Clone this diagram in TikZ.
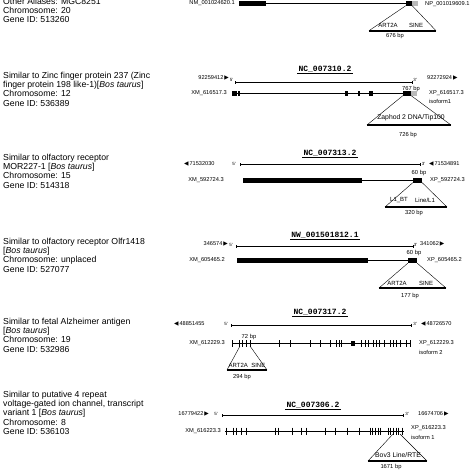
\documentclass[tikz,border=0pt]{standalone}
\usepackage{fontspec}
\setmainfont{Liberation Sans}
\newfontfamily\titlefont{Liberation Mono}
\newfontfamily\symfont{DejaVu Sans}
\usetikzlibrary{arrows.meta}
\newcommand\rtri{{\symfont\fontsize{5.8}{6}\selectfont ▶}}
\newcommand\ltri{{\symfont\fontsize{5.8}{6}\selectfont ◀}}
\tikzset{
  info/.style={anchor=base west,align=left,inner sep=0pt,font=\fontsize{8.7}{9.4}\selectfont},
  acc/.style={inner sep=0pt,font=\fontsize{5.7}{6}\selectfont},
  coordlabel/.style={inner sep=0pt,font=\fontsize{5.6}{6}\selectfont},
  prime/.style={inner sep=0pt,font=\fontsize{4.5}{5}\selectfont},
  chrom/.style={inner sep=1pt,font=\titlefont\bfseries\fontsize{8}{9}\selectfont},
  uline/.style={line width=0.8pt},
  replabel/.style={inner sep=0pt,font=\fontsize{6}{6}\selectfont},
  bigrep/.style={inner sep=0pt,font=\fontsize{6.8}{7}\selectfont},
  bplabel/.style={inner sep=0pt,font=\fontsize{5.8}{6}\selectfont},
  gline/.style={line width=0.5pt,{Bar[width=3pt]}-{Bar[width=3pt]}},
  mline/.style={line width=0.7pt},
  repbase/.style={line width=1.8pt},
  exon/.style={fill,inner sep=0pt,minimum width=#1,minimum height=5pt},
  utr/.style={fill=gray!55,inner sep=0pt,minimum width=6pt,minimum height=5pt,anchor=west},
  ticks/.style={line width=0.9pt}
}
\begin{document}
\begin{tikzpicture}[x=1pt,y=-1pt]
\useasboundingbox (0,0) rectangle (474,474);

% panel 1
\node[info] (g1) at (3,22.8) {Other Aliases: MGC8251\\Chromosome: 20\\Gene ID: 513260};
\node[acc,anchor=east] (xm1) at (235,3.5) {NM\_001024620.1};
\node[exon=27pt] (e1a) at (252.5,3) {};
\node[exon=6pt] (e1b) at (409,3) {};
\node[utr] (u1) at (e1b.east) {};
\draw[mline] (e1a) -- (e1b);
\node[acc,anchor=west] (np1) at (425,4.5) {NP\_001019609.1};
\coordinate (b1l) at (369,30.7);
\coordinate (b1r) at (436,30.7);
\draw (e1b.south west) -- (b1l);
\draw (e1b.south east) -- (b1r);
\draw[repbase] (b1l) -- (b1r);
\node[replabel] (r1a) at (388,25) {ART2A};
\node[replabel] (r1b) at (416,25) {SINE};
\node[bplabel] (s1) at (395,35.5) {676 bp};

% panel 2
\node[info] (g2) at (3,106.2) {Similar to Zinc finger protein 237 (Zinc\\finger protein 198 like-1)[\textit{Bos taurus}]\\Chromosome: 12\\Gene ID: 536389};
\node[chrom] (t2) at (325,69) {NC\_007310.2};
\draw[uline] (t2.south west) -- (t2.south east);
\node[coordlabel,anchor=east] (p2a) at (229,78) {92259412\,\rtri};
\node[prime] (f2a) at (231.5,80) {5'};
\coordinate (q2a) at (235,82);
\coordinate (q2b) at (412,82);
\draw[gline] (q2a) -- (q2b);
\node[prime] (f2b) at (415,79.5) {3'};
\node[coordlabel,anchor=west] (p2b) at (427,78) {92272924\,\rtri};
\node[acc,anchor=east] (xm2) at (227,93) {XM\_616517.3};
\node[exon=5pt] (e2a) at (234,93) {};
\node[exon=2pt] (e2b) at (238.5,93) {};
\node[exon=3pt] (e2c) at (346,93) {};
\node[exon=2.5pt] (e2d) at (359,93) {};
\node[exon=3.5pt] (e2e) at (371,93) {};
\node[exon=8pt] (e2f) at (407,93) {};
\node[utr] (u2) at (e2f.east) {};
\draw[mline] (e2a) -- (e2f);
\node[bplabel] (l2) at (411,88.5) {767 bp};
\node[acc,anchor=west] (xp2) at (429,93) {XP\_616517.3};
\node[acc,anchor=west] (i2) at (429,101.5) {isoform1};
\coordinate (b2l) at (367,125);
\coordinate (b2r) at (451,125);
\draw (e2f.south west) -- (b2l);
\draw (e2f.south east) -- (b2r);
\draw[repbase] (b2l) -- (b2r);
\node[bigrep] (r2) at (411,117.5) {Zaphod 2 DNA/Tip100};
\node[bplabel] (s2) at (408,135) {726 bp};

% panel 3
\node[info] (g3) at (3,188.2) {Similar to olfactory receptor\\MOR227-1 [\textit{Bos taurus}]\\Chromosome: 15\\Gene ID: 514318};
\node[chrom] (t3) at (330,153) {NC\_007313.2};
\draw[uline] (t3.south west) -- (t3.south east);
\node[coordlabel,anchor=west] (p3a) at (184,163.5) {\ltri\,71532030};
\node[prime] (f3a) at (234,163.5) {5'};
\coordinate (q3a) at (240,164.5);
\coordinate (q3b) at (420,164.5);
\draw[gline] (q3a) -- (q3b);
\node[prime] (f3b) at (423.5,163.5) {3'};
\node[coordlabel,anchor=west] (p3b) at (429,163.5) {\ltri\,71534891};
\node[acc,anchor=east] (xm3) at (224,180) {XM\_592724.3};
\node[exon=119pt] (e3a) at (302.5,180) {};
\node[exon=9pt] (e3b) at (417.5,180) {};
\draw[mline] (e3a) -- (e3b);
\node[bplabel] (l3) at (419,173) {60 bp};
\node[acc,anchor=west] (xp3) at (430,180) {XP\_592724.3};
\coordinate (b3l) at (385,207);
\coordinate (b3r) at (447,207);
\draw (e3b.south west) -- (b3l);
\draw (e3b.south east) -- (b3r);
\draw[repbase] (b3l) -- (b3r);
\node[replabel] (r3a) at (399,200.5) {L1\_BT};
\node[replabel] (r3b) at (425,200.5) {Line/L1};
\node[bplabel] (s3) at (414,212.5) {320 bp};

% panel 4
\node[info] (g4) at (3,272.2) {Similar to olfactory receptor Olfr1418\\{[}\textit{Bos taurus}]\\Chromosome: unplaced\\Gene ID: 527077};
\node[chrom] (t4) at (325,235) {NW\_001501812.1};
\draw[uline] (t4.south west) -- (t4.south east);
\node[coordlabel,anchor=east] (p4a) at (228,244) {346574\,\rtri};
\node[prime] (f4a) at (231,245) {5'};
\coordinate (q4a) at (236,246);
\coordinate (q4b) at (413,246);
\draw[gline] (q4a) -- (q4b);
\node[prime] (f4b) at (415.5,245) {3'};
\node[coordlabel,anchor=west] (p4b) at (420,244) {341062\,\rtri};
\node[acc,anchor=east] (xm4) at (225,260) {XM\_605465.2};
\node[exon=131pt] (e4a) at (302.5,260.5) {};
\node[exon=9pt] (e4b) at (412.5,260.5) {};
\draw[mline] (e4a) -- (e4b);
\node[bplabel] (l4) at (414,253) {60 bp};
\node[acc,anchor=west] (xp4) at (427,260) {XP\_605465.2};
\coordinate (b4l) at (379,288);
\coordinate (b4r) at (446,288);
\draw (e4b.south west) -- (b4l);
\draw (e4b.south east) -- (b4r);
\draw[repbase] (b4l) -- (b4r);
\node[replabel] (r4a) at (397,283) {ART2A};
\node[replabel] (r4b) at (426,283) {SINE};
\node[bplabel] (s4) at (410,295.5) {177 bp};

% panel 5
\node[info] (g5) at (3,352.2) {Similar to fetal Alzheimer antigen\\{[}\textit{Bos taurus}]\\Chromosome: 19\\Gene ID: 532986};
\node[chrom] (t5) at (320,312) {NC\_007317.2};
\draw[uline] (t5.south west) -- (t5.south east);
\node[coordlabel,anchor=west] (p5a) at (174,324) {\ltri\,48851455};
\node[prime] (f5a) at (226,324) {5'};
\coordinate (q5a) at (231,325);
\coordinate (q5b) at (411,325);
\draw[gline] (q5a) -- (q5b);
\node[prime] (f5b) at (415,324) {3'};
\node[coordlabel,anchor=west] (p5b) at (421,324) {\ltri\,48726570};
\node[acc,anchor=east] (xm5) at (225,343.5) {XM\_612229.3};
\coordinate (x5a) at (232,343.5);
\coordinate (x5b) at (411,343.5);
\draw[mline] (x5a) -- (x5b);
\draw[ticks] (232.7,340) -- (232.7,347) (239.3,340) -- (239.3,347) (242.7,340) -- (242.7,347)
  (246,340) -- (246,347) (250,340) -- (250,347) (279.3,340) -- (279.3,347) (290,340) -- (290,347)
  (310,340) -- (310,347) (320,340) -- (320,347) (330.7,340) -- (330.7,347) (336.7,340) -- (336.7,347)
  (339.3,340) -- (339.3,347) (341.7,340) -- (341.7,347) (361.7,340) -- (361.7,347) (365,340) -- (365,347)
  (368.3,340) -- (368.3,347) (373.3,340) -- (373.3,347) (376.7,340) -- (376.7,347) (379.3,340) -- (379.3,347)
  (384,340) -- (384,347) (390,340) -- (390,347) (393.3,340) -- (393.3,347) (396.7,340) -- (396.7,347)
  (400,340) -- (400,347) (406,340) -- (406,347) (410.7,340) -- (410.7,347);
\node[exon=4pt] (e5b) at (353.3,343.5) {};
\coordinate (e5l) at (240,346);
\coordinate (e5r) at (250,346);
\node[bplabel] (l5) at (249,337) {72 bp};
\node[acc,anchor=west] (xp5) at (419,343.5) {XP\_612229.3};
\node[acc,anchor=west] (i5) at (419,352) {isoform 2};
\coordinate (b5l) at (227,370);
\coordinate (b5r) at (267,370);
\draw (e5l) -- (b5l);
\draw (e5r) -- (b5r);
\draw[repbase] (b5l) -- (b5r);
\node[replabel] (r5) at (247,365) {ART2A\ \ SINE};
\node[bplabel] (s5) at (242,377) {294 bp};

% panel 6
\node[info] (g6) at (3,434.6) {Similar to putative 4 repeat\\voltage-gated ion channel, transcript\\variant 1 [\textit{Bos taurus}]\\Chromosome: 8\\Gene ID: 536103};
\node[chrom] (t6) at (313,405) {NC\_007306.2};
\draw[uline] (t6.south west) -- (t6.south east);
\node[coordlabel,anchor=east] (p6a) at (209,414) {16779422\,\rtri};
\node[prime] (f6a) at (216,414) {5'};
\coordinate (q6a) at (222,415);
\coordinate (q6b) at (403,415);
\draw[gline] (q6a) -- (q6b);
\node[prime] (f6b) at (407,414) {3'};
\node[coordlabel,anchor=west] (p6b) at (418,414) {16674706\,\rtri};
\node[acc,anchor=east] (xm6) at (221,431) {XM\_616223.3};
\coordinate (x6a) at (225,431);
\coordinate (x6b) at (404,431);
\draw[mline] (x6a) -- (x6b);
\draw[ticks] (226,427.5) -- (226,434.5) (233.3,427.5) -- (233.3,434.5) (236,427.5) -- (236,434.5)
  (241.7,427.5) -- (241.7,434.5) (246,427.5) -- (246,434.5) (275,427.5) -- (275,434.5) (278.3,427.5) -- (278.3,434.5)
  (292.7,427.5) -- (292.7,434.5) (301.7,427.5) -- (301.7,434.5) (306.7,427.5) -- (306.7,434.5) (325,427.5) -- (325,434.5)
  (335,427.5) -- (335,434.5) (347.3,427.5) -- (347.3,434.5) (359.3,427.5) -- (359.3,434.5) (370,427.5) -- (370,434.5)
  (372.7,427.5) -- (372.7,434.5) (375,427.5) -- (375,434.5) (378.3,427.5) -- (378.3,434.5) (380,427.5) -- (380,434.5)
  (388.3,427.5) -- (388.3,434.5) (390.7,427.5) -- (390.7,434.5) (393.3,427.5) -- (393.3,434.5) (396,427.5) -- (396,434.5)
  (398.3,427.5) -- (398.3,434.5) (402.7,427.5) -- (402.7,434.5);
\coordinate (e6l) at (393,434);
\coordinate (e6r) at (400,434);
\node[acc,anchor=west] (xp6) at (411,428) {XP\_616223.3};
\node[acc,anchor=west] (i6) at (411,437) {isoform 1};
\coordinate (b6l) at (368,461);
\coordinate (b6r) at (427,461);
\draw (e6l) -- (b6l);
\draw (e6r) -- (b6r);
\draw[repbase] (b6l) -- (b6r);
\node[bigrep] (r6) at (398,455) {Bov3 Line/RTE};
\node[bplabel] (s6) at (391,467) {1671 bp};
\end{tikzpicture}
\end{document}
